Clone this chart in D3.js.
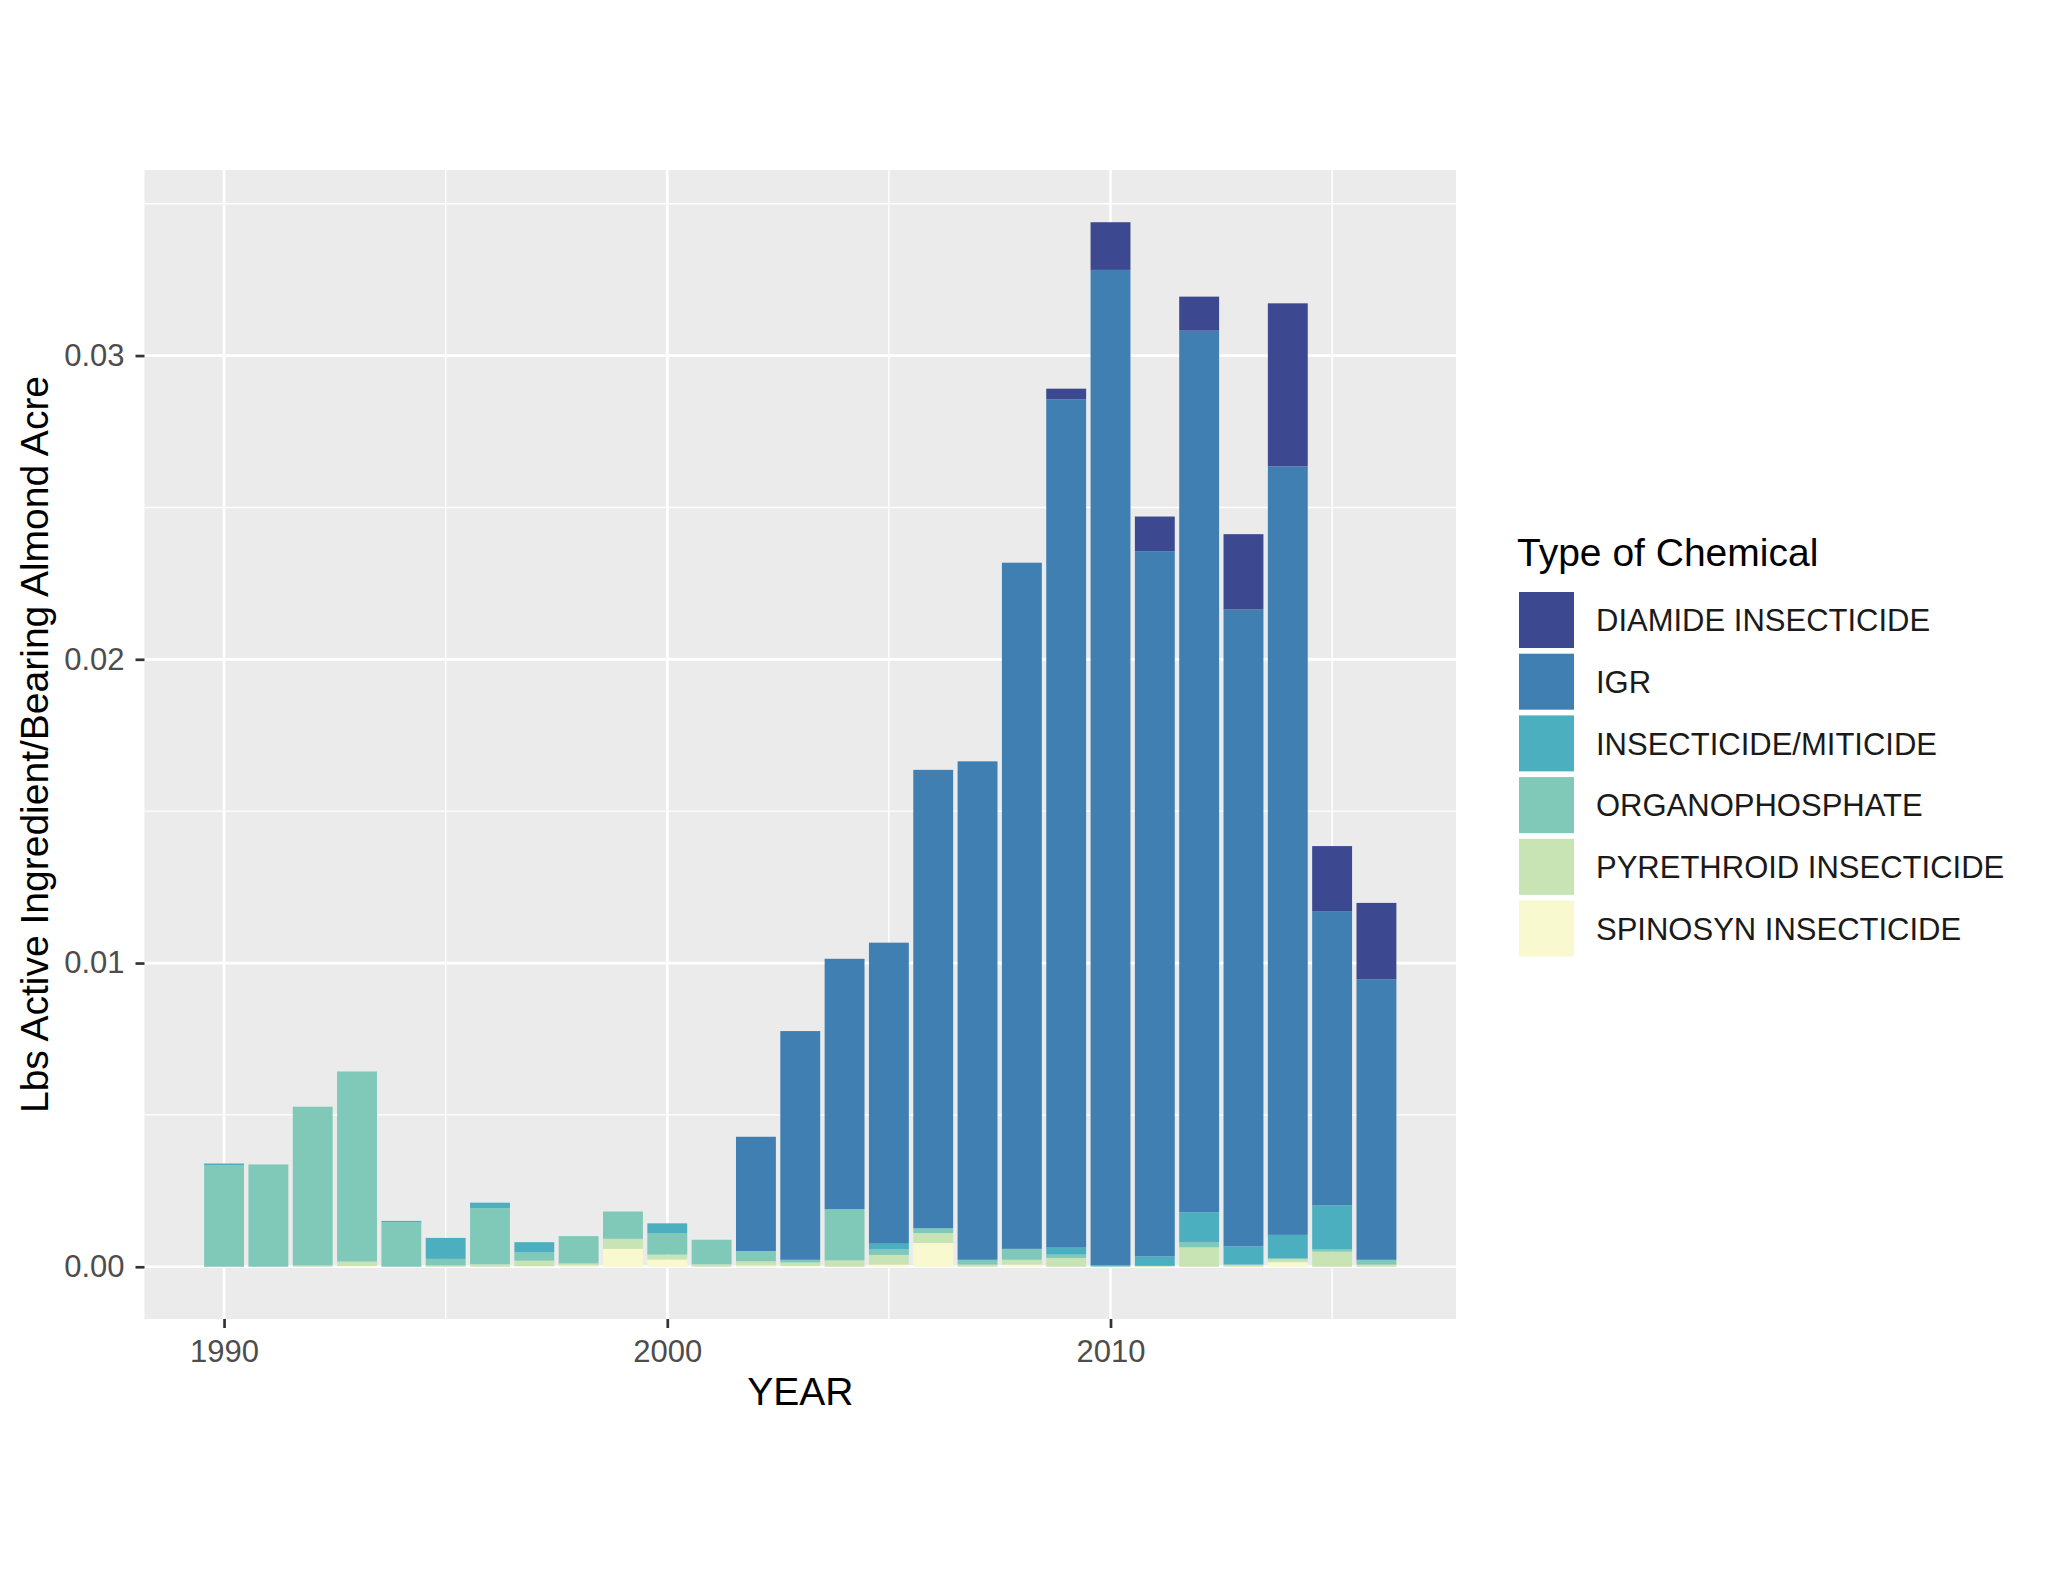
<!DOCTYPE html>
<html>
<head>
<meta charset="utf-8">
<script src="https://cdn.jsdelivr.net/npm/d3@7"></script>
<style>
  body { margin: 0; background: #fff; }
  text { font-family: "Liberation Sans", Arial, Helvetica, sans-serif; }
</style>
</head>
<body>
<div id="chart"></div>
<script>
// Datos (lbs ingrediente activo / acre de almendro en produccion)
var years = [1990,1991,1992,1993,1994,1995,1996,1997,1998,1999,2000,2001,2002,2003,
             2004,2005,2006,2007,2008,2009,2010,2011,2012,2013,2014,2015,2016];

var diamide = [0,0,0,0,0,0,0,0,0,0,0,0,0,0,
               0,0,0,0,0,0.00035,0.00157,0.00114,0.00112,0.00248,0.00537,0.00214,0.00252];
var igr = [0,0,0,0,0,0,0,0,0,0,0,0,0.00376,0.00753,
           0.00824,0.00991,0.01509,0.01641,0.02259,0.02793,0.03278,0.02322,0.02903,0.02097,0.0253,0.00969,0.00923];
var insMit = [0.00005,0,0,0,0.00004,0.00069,0.00018,0.00034,0,0,0.00032,0,0,0,
              0,0.00019,0,0,0,0.00023,0,0.00031,0.00099,0.0006,0.00077,0.00144,0];
var organo = [0.00335,0.00337,0.00523,0.00626,0.00147,0.00022,0.00185,0.00027,0.0009,0.0009,0.00071,0.00081,0.00034,0.00009,
              0.00169,0.00018,0.00016,0.00016,0.00036,0.00011,0.00004,0,0.00016,0,0.00003,0.00008,0.00016];
var pyre = [0,0,0.00004,0.00014,0,0.00004,0.00008,0.00018,0.00007,0.00033,0.00016,0.00008,0.00014,0.00011,
            0.00021,0.00032,0.00033,0.00007,0.00016,0.00029,0,0.00003,0.00064,0.00007,0.0001,0.0005,0.00007];
var spin = [0,0,0,0.00003,0,0,0,0.00002,0.00004,0.00059,0.00024,0,0.00004,0.00003,
            0,0.00007,0.00078,0,0.00007,0,0,0,0,0,0.00015,0,0];

var categorias = ["DIAMIDE INSECTICIDE","IGR","INSECTICIDE/MITICIDE","ORGANOPHOSPHATE",
                  "PYRETHROID INSECTICIDE","SPINOSYN INSECTICIDE"];
var colores = ["#3c4890","#3f7fb2","#4bafc0","#80c8b7","#c8e3b4","#f8f9cf"];

var yTicks = [0, 0.01, 0.02, 0.03];
var yMinor = [0.005, 0.015, 0.025, 0.035];
var xTicks = [1990, 2000, 2010];
var xMinor = [1995, 2005, 2015];

// Tabla para d3.stack
var series = [diamide, igr, insMit, organo, pyre, spin];
var tabla = years.map(function(y, i){
  var fila = {year: y};
  categorias.forEach(function(c, j){ fila[c] = series[j][i]; });
  return fila;
});

var W = 2048, H = 1583;
var panel = {left: 144.5, right: 1456, top: 170, bottom: 1319};

var svg = d3.select("#chart").append("svg")
  .attr("width", W).attr("height", H);

// Escalas (expansion 5% estilo ggplot)
var ancho = 0.9;
var xMin = d3.min(years) - ancho/2, xMax = d3.max(years) + ancho/2;
var xPad = (xMax - xMin) * 0.05;
var escalaX = d3.scaleLinear()
  .domain([xMin - xPad, xMax + xPad])
  .range([panel.left, panel.right]);

var totales = tabla.map(function(d){ return d3.sum(categorias, function(c){ return d[c]; }); });
var yMax = d3.max(totales);
var escalaY = d3.scaleLinear()
  .domain([-yMax*0.05, yMax*1.05])
  .range([panel.bottom, panel.top]);

var color = d3.scaleOrdinal().domain(categorias).range(colores);

// Fondo del panel
svg.append("rect")
  .attr("x", panel.left).attr("y", panel.top)
  .attr("width", panel.right - panel.left)
  .attr("height", panel.bottom - panel.top)
  .attr("fill", "#ebebeb");

// Rejilla
var rejilla = svg.append("g");
rejilla.selectAll(".ymin").data(yMinor).enter().append("line")
  .attr("x1", panel.left).attr("x2", panel.right)
  .attr("y1", d => escalaY(d)).attr("y2", d => escalaY(d))
  .attr("stroke", "#fff").attr("stroke-width", 1.4);
rejilla.selectAll(".xmin").data(xMinor).enter().append("line")
  .attr("y1", panel.top).attr("y2", panel.bottom)
  .attr("x1", d => escalaX(d)).attr("x2", d => escalaX(d))
  .attr("stroke", "#fff").attr("stroke-width", 1.4);
rejilla.selectAll(".ymaj").data(yTicks).enter().append("line")
  .attr("x1", panel.left).attr("x2", panel.right)
  .attr("y1", d => escalaY(d)).attr("y2", d => escalaY(d))
  .attr("stroke", "#fff").attr("stroke-width", 2.7);
rejilla.selectAll(".xmaj").data(xTicks).enter().append("line")
  .attr("y1", panel.top).attr("y2", panel.bottom)
  .attr("x1", d => escalaX(d)).attr("x2", d => escalaX(d))
  .attr("stroke", "#fff").attr("stroke-width", 2.7);

// Barras apiladas (primer nivel arriba, como ggplot)
var apilar = d3.stack().keys(categorias.slice().reverse());
var capas = apilar(tabla);
var anchoPx = escalaX(ancho) - escalaX(0);

svg.append("g").selectAll("g")
  .data(capas)
  .enter().append("g")
  .attr("fill", d => color(d.key))
  .selectAll("rect")
  .data(d => d)
  .enter().append("rect")
  .attr("x", d => escalaX(d.data.year) - anchoPx/2)
  .attr("width", anchoPx)
  .attr("y", d => escalaY(d[1]))
  .attr("height", d => Math.max(0, escalaY(d[0]) - escalaY(d[1])));

// Ejes
var ejeX = svg.append("g")
  .attr("transform", "translate(0," + panel.bottom + ")")
  .call(d3.axisBottom(escalaX).tickValues(xTicks).tickFormat(d3.format("d")).tickSize(9).tickPadding(12));
var ejeY = svg.append("g")
  .attr("transform", "translate(" + panel.left + ",0)")
  .call(d3.axisLeft(escalaY).tickValues(yTicks).tickFormat(d3.format(".2f")).tickSize(9).tickPadding(11));

[ejeX, ejeY].forEach(function(eje){
  eje.select(".domain").remove();
  eje.selectAll(".tick line").attr("stroke", "#333").attr("stroke-width", 2.7);
  eje.selectAll(".tick text")
    .attr("fill", "#4d4d4d")
    .style("font-size", "31px")
    .style("font-family", "'Liberation Sans', Arial, sans-serif");
});

// Titulos de ejes
svg.append("text")
  .attr("x", (panel.left + panel.right)/2)
  .attr("y", 1405)
  .attr("text-anchor", "middle")
  .style("font-size", "39px")
  .text("YEAR");

svg.append("text")
  .attr("transform", "translate(48," + ((panel.top + panel.bottom)/2) + ") rotate(-90)")
  .attr("text-anchor", "middle")
  .style("font-size", "39px")
  .text("Lbs Active Ingredient/Bearing Almond Acre");

// Leyenda
var leyenda = svg.append("g").attr("transform", "translate(1517,0)");
leyenda.append("text")
  .attr("x", 0).attr("y", 566)
  .style("font-size", "39px")
  .text("Type of Chemical");

var items = leyenda.selectAll(".item")
  .data(categorias)
  .enter().append("g")
  .attr("transform", (d, i) => "translate(0," + (592 + i*61.7) + ")");
items.append("rect")
  .attr("x", 2)
  .attr("width", 55).attr("height", 56)
  .attr("fill", d => color(d));
items.append("text")
  .attr("x", 79).attr("y", 28).attr("dy", "0.36em")
  .style("font-size", "31px")
  .attr("fill", "#1a1a1a")
  .text(d => d);
</script>
</body>
</html>
